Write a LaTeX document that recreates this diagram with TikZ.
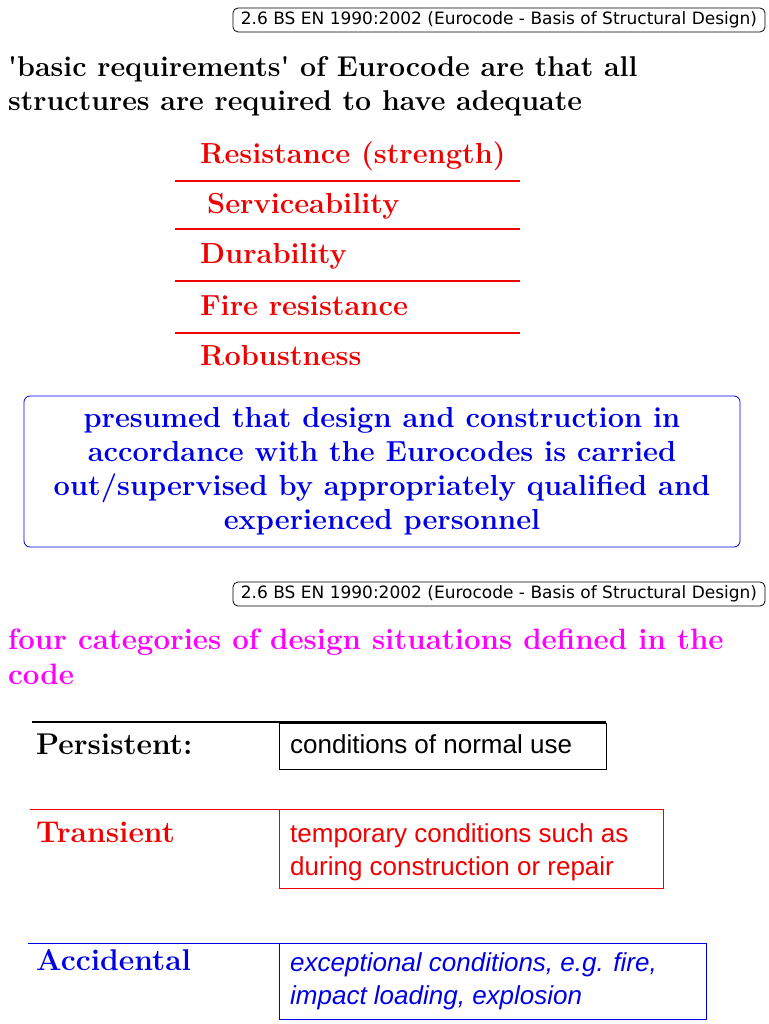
\documentclass[tikz,border=0pt]{standalone}
\usepackage{fontspec}
\newfontfamily\hand{Liberation Sans}
\newfontfamily\hdr{DejaVu Sans}
\definecolor{rd}{RGB}{240,0,0}
\definecolor{bl}{RGB}{0,0,230}
\definecolor{mg}{RGB}{255,0,255}
\begin{document}
\begin{tikzpicture}[x=1pt,y=-1pt,
  hbox/.style={draw,rounded corners=5pt,line width=0.8pt,minimum width=532pt,minimum height=24pt,font=\hdr\fontsize{17}{18}\selectfont,inner sep=0pt},
  big/.style={font=\bfseries\fontsize{28.6}{34}\selectfont,anchor=west,inner sep=0pt},
  item/.style={font=\bfseries\fontsize{29}{30}\selectfont,anchor=west,inner sep=0pt,text=rd},
  desc/.style={anchor=north west,font=\hand\fontsize{26}{33}\selectfont,align=left,inner sep=0pt}]
\useasboundingbox (0,0) rectangle (768,1024);
\node[hbox] (h1) at (499,20) {2.6 BS EN 1990:2002 (Eurocode - Basis of Structural Design)};
\node[big,align=left,anchor=north west] (intro) at (8,56) {\textquotesingle basic requirements\textquotesingle{} of Eurocode are that all\\structures are required to have adequate};
\node[item] (r1) at (200,156) {Resistance (strength)};
\node[item] (r2) at (207,206) {Serviceability};
\node[item] (r3) at (200,256) {Durability};
\node[item] (r4) at (200,306) {Fire resistance};
\node[item] (r5) at (200,356) {Robustness};
\foreach \y in {181,229,281,333} \draw[rd,line width=1.2pt] (175,\y) -- (520,\y);
\node[draw=bl,rounded corners=6pt,line width=0.8pt,minimum width=716pt,minimum height=151pt,text=bl,align=center,font=\bfseries\fontsize{29}{34}\selectfont] (pres) at (382,471.5) {presumed that design and construction in\\accordance with the Eurocodes is carried\\out/supervised by appropriately qualified and\\experienced personnel};
\node[hbox] (h2) at (499,594) {2.6 BS EN 1990:2002 (Eurocode - Basis of Structural Design)};
\node[big,align=left,anchor=north west,text=mg,font=\bfseries\fontsize{29.5}{35}\selectfont] (four) at (8,629) {four categories of design situations defined in the\\code};
\draw[line width=1.5pt] (32,722) -- (606,722);
\node[draw,line width=1pt,minimum width=327pt,minimum height=46pt,anchor=north west] (b1) at (279,723) {};
\node[desc] (d1) at (290,734) {conditions of normal use};
\node[big,anchor=west,font=\bfseries\fontsize{30}{34}\selectfont] (p) at (36,744) {Persistent:};
\draw[rd,line width=1pt] (30,809) -- (663,809);
\node[draw=rd,line width=1pt,minimum width=384pt,minimum height=79pt,anchor=north west] (b2) at (279,809) {};
\node[desc,text=rd] (d2) at (290,823) {temporary conditions such as\\during construction or repair};
\node[big,anchor=west,text=rd,font=\bfseries\fontsize{30}{34}\selectfont] (t) at (36,832) {Transient};
\draw[bl,line width=1pt] (28,943) -- (706,943);
\node[draw=bl,line width=1pt,minimum width=427pt,minimum height=76pt,anchor=north west] (b3) at (279,943) {};
\node[desc,text=bl,font=\hand\itshape\fontsize{26}{33}\selectfont] (d3) at (290,952) {exceptional conditions, e.g. fire,\\impact loading, explosion};
\node[big,anchor=west,text=bl,font=\bfseries\fontsize{30}{34}\selectfont] (a) at (36,960) {Accidental};
\end{tikzpicture}
\end{document}
